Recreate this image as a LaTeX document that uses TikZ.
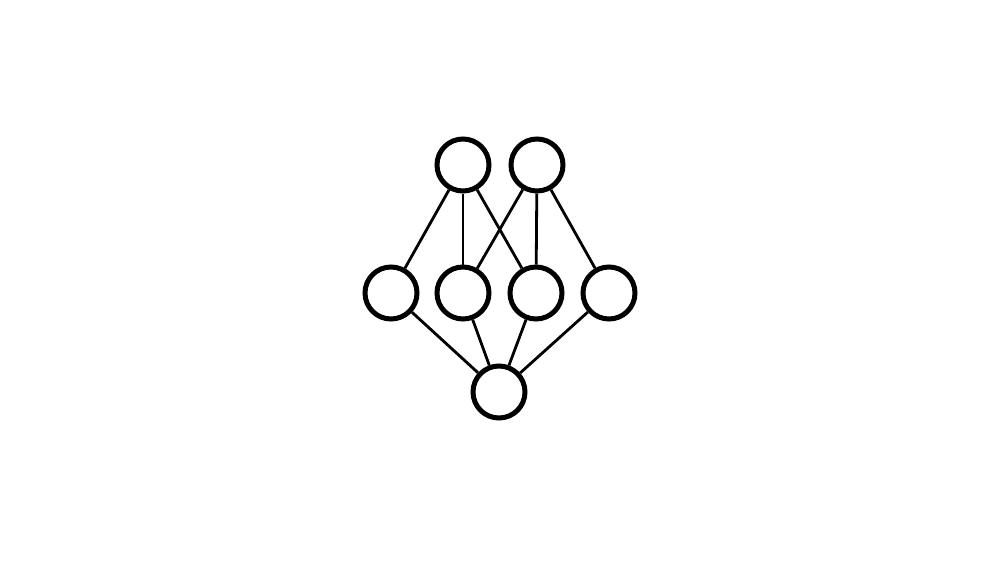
\documentclass[tikz,border=0pt]{standalone}
\begin{document}
\begin{tikzpicture}[x=1pt,y=-1pt,
  neuron/.style={circle,draw=black,line width=5pt,minimum size=52pt,inner sep=0pt,fill=white},
  link/.style={draw=black,line width=2.8pt}]
\useasboundingbox[fill=white] (0,0) rectangle (1000,562);
\node[neuron] (t1) at (463,165) {};
\node[neuron] (t2) at (537,165) {};
\node[neuron] (m1) at (391,293) {};
\node[neuron] (m2) at (463,293) {};
\node[neuron] (m3) at (536,293) {};
\node[neuron] (m4) at (609,293) {};
\node[neuron] (b) at (499,392) {};
\path[link] (t1) -- (m1);
\path[link] (t1) -- (m2);
\path[link] (t1) -- (m3);
\path[link] (t2) -- (m2);
\path[link] (t2) -- (m3);
\path[link] (t2) -- (m4);
\path[link] (m1) -- (b);
\path[link] (m2) -- (b);
\path[link] (m3) -- (b);
\path[link] (m4) -- (b);
\end{tikzpicture}
\end{document}
